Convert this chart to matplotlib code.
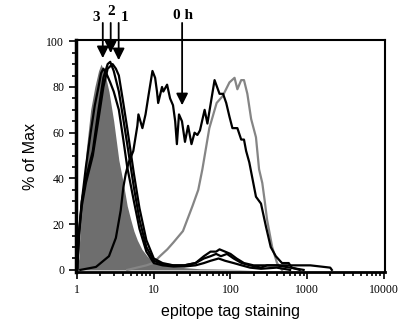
import numpy as np
import matplotlib.pyplot as plt
from matplotlib.ticker import LogLocator, NullFormatter, MultipleLocator

# control (filled gray histogram)
ctrl_x = [1.0, 1.05, 1.1, 1.2, 1.31, 1.5, 1.7, 1.9, 2.05, 2.3, 2.6, 3.0, 3.5, 4.0, 4.5,
          5.0, 5.5, 6.1, 7.0, 8.2, 10, 13, 18, 25, 40, 100, 200]
ctrl_y = [0, 5, 20, 35, 52, 70, 80, 87, 90, 86, 78, 65, 48, 38, 28,
          22, 17, 13, 9, 6, 3.5, 2, 1.5, 1, 0.5, 0.3, 0]

# time points 3, 2, 1 (black, left peak)
t3_x = [1.0, 1.06, 1.15, 1.3, 1.5, 1.7, 1.9, 2.05, 2.2, 2.4, 2.7, 3.0, 3.5, 4.0, 4.5, 5.5,
        6.5, 8.0, 10, 13, 18, 25, 35, 45, 55, 70, 85, 110, 140, 180, 250, 400, 600]
t3_y = [0, 15, 30, 45, 60, 72, 80, 86, 88, 86, 82, 78, 70, 57, 45, 30,
        18, 8, 3, 2, 1.5, 1.5, 2, 3, 4, 5, 4, 3, 2, 1, 0.5, 1, 0]
t2_x = [1.0, 1.06, 1.15, 1.3, 1.6, 1.9, 2.2, 2.5, 2.7, 3.0, 3.5, 4.0, 4.5, 5.5, 6.5, 8.0,
        10, 13, 18, 25, 35, 45, 55, 65, 75, 90, 110, 140, 180, 250, 300, 400, 600, 900]
t2_y = [0, 17, 30, 40, 52, 70, 84, 90, 91, 87, 78, 66, 55, 36, 22, 10,
        4, 2.5, 2, 2, 3, 5, 6, 7, 6, 7, 5, 3, 2, 1, 2, 2, 1, 0]
t1_x = [1.0, 1.06, 1.15, 1.3, 1.6, 1.9, 2.2, 2.5, 2.9, 3.2, 3.5, 4.0, 4.5, 5.5, 6.5, 8.0,
        10, 13, 18, 25, 35, 45, 55, 65, 72, 85, 100, 120, 150, 200, 300, 500, 800, 1100, 2000, 2100]
t1_y = [0, 17, 28, 38, 50, 66, 80, 88, 90, 88, 85, 73, 62, 42, 27, 13,
        5, 3, 2, 2, 3, 6, 8, 8, 9, 8, 7, 5, 3, 2, 2, 2, 2, 2, 1, 0]

# 0 h (black, bimodal)
t0_x = [1.1, 1.76, 2.6, 3.2, 3.7, 4.0, 4.3, 4.7, 5.4, 6.1, 6.3, 7.1, 7.8, 8.5, 9.6, 10.4,
        11, 11.4, 12.8, 13.3, 14.9, 16.3, 17.8, 19, 20, 21.3, 23.3, 25.5, 28, 31, 34, 37,
        40, 46, 50, 62, 72, 80, 88, 97, 106, 123, 138, 150, 160, 176, 215, 250, 290, 335,
        390, 470, 575, 630, 800]
t0_y = [0, 1.3, 6, 14, 26, 36, 42, 47, 52, 63, 68, 62, 68, 76, 87, 84,
        78, 73, 80, 78, 81, 75, 72, 65, 55, 68, 65, 56, 63, 55, 60, 59,
        61, 70, 64, 83, 77, 77, 73, 67, 62, 62, 57, 57, 52, 47, 32, 29, 19, 10,
        6, 3, 3, 1, 0]

# gray line (shifted population)
g_x = [4.5, 6, 8, 9.8, 12, 15, 18, 24, 32, 38, 43, 53, 66, 79, 97, 113, 123,
       138, 150, 166, 186, 215, 236, 260, 280, 300, 350, 405, 470]
g_y = [0, 1, 2, 3, 6, 9, 12, 17, 28, 35, 44, 62, 73, 76, 82, 84, 79,
       83, 83, 77, 66, 58, 44, 38, 30, 22, 10, 3, 0]

fig = plt.figure(figsize=(4.16, 3.34), dpi=100)
ax = fig.add_axes([0.183, 0.185, 0.742, 0.695])

ax.fill_between(ctrl_x, ctrl_y, 0, color='#6e6e6e', lw=0)
ax.plot(g_x, g_y, color='#858585', lw=1.6)
for xs, ys in [(t3_x, t3_y), (t2_x, t2_y), (t1_x, t1_y), (t0_x, t0_y)]:
    ax.plot(xs, ys, color='black', lw=1.6)

ax.set_xscale('log')
ax.set_xlim(0.97, 10300)
ax.set_ylim(-1, 100.5)

ax.xaxis.set_major_locator(LogLocator(base=10))
ax.xaxis.set_minor_locator(LogLocator(base=10, subs=np.arange(2, 10)))
ax.xaxis.set_minor_formatter(NullFormatter())
ax.set_xticks([1, 10, 100, 1000, 10000])
ax.set_xticklabels(['1', '10', '100', '1000', '10000'])
ax.yaxis.set_major_locator(MultipleLocator(20))
ax.yaxis.set_minor_locator(MultipleLocator(5))

ax.tick_params(which='both', direction='out', width=1.2, labelsize=8.5)
ax.tick_params(which='major', length=5)
ax.tick_params(which='minor', length=3)
for lab in ax.get_xticklabels() + ax.get_yticklabels():
    lab.set_family('Liberation Serif')
for s in ax.spines.values():
    s.set_linewidth(1.5)
ax.spines['left'].set_linewidth(2.5)
ax.spines['bottom'].set_linewidth(2.0)

ax.set_xlabel('epitope tag staining', family='Liberation Sans', fontsize=11.5, labelpad=6)
ax.set_ylabel('% of Max', family='Liberation Sans', fontsize=11.5, labelpad=6)

# arrows with labels
arrows = [('3', 2.16, 92.6, 1.76), ('2', 2.74, 94.8, 2.74), ('1', 3.48, 91.7, 4.16)]
for lab, xa, ya, xt in arrows:
    ax.annotate('', xy=(xa, ya), xytext=(xa, 108), annotation_clip=False,
                arrowprops=dict(arrowstyle='-|>,head_width=0.35,head_length=0.7',
                                color='black', lw=1.3, shrinkA=0, shrinkB=0))
ax.text(1.76, 107.5, '3', family='Liberation Serif', weight='bold', fontsize=11,
        ha='center', va='bottom')
ax.text(2.74, 110, '2', family='Liberation Serif', weight='bold', fontsize=11,
        ha='center', va='bottom')
ax.text(4.16, 107.5, '1', family='Liberation Serif', weight='bold', fontsize=11,
        ha='center', va='bottom')
ax.annotate('', xy=(23.4, 72), xytext=(23.4, 108), annotation_clip=False,
            arrowprops=dict(arrowstyle='-|>,head_width=0.35,head_length=0.7',
                            color='black', lw=1.3, shrinkA=0, shrinkB=0))
ax.text(24, 108.5, '0 h', family='Liberation Serif', weight='bold', fontsize=11,
        ha='center', va='bottom')

fig.savefig('out.png', dpi=100)
